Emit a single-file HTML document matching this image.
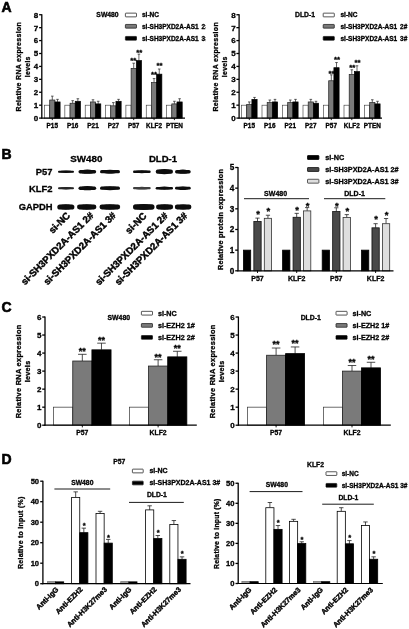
<!DOCTYPE html>
<html lang="en"><head><meta charset="utf-8"><title>Figure</title>
<style>html,body{margin:0;padding:0;background:#fff;}svg{display:block;}text{font-family:"Liberation Sans",Arial,Helvetica,sans-serif;font-weight:bold;stroke:#000;stroke-width:0.3px;}</style>
</head><body>
<svg width="409" height="629" viewBox="0 0 409 629">
<defs><filter id="bl" x="-10%" y="-50%" width="120%" height="200%"><feGaussianBlur stdDeviation="0.45"/></filter>
<filter id="soft" x="0" y="0" width="100%" height="100%"><feGaussianBlur stdDeviation="0.3"/></filter></defs>
<rect x="0" y="0" width="409" height="629" fill="#fff"/>
<g filter="url(#soft)">
<text x="21.00" y="66.72" font-size="7.0" text-anchor="middle" fill="#000" transform="rotate(-90 21.00 66.72)" letter-spacing="0.3">Relative RNA expression</text>
<text x="29.80" y="66.72" font-size="6.9" text-anchor="middle" fill="#000" transform="rotate(-90 29.80 66.72)" letter-spacing="0.3">levels</text>
<rect x="44.50" y="105.18" width="5.20" height="12.92" fill="#fff" stroke="#333" stroke-width="0.6"/>
<line x1="52.30" y1="96.14" x2="52.30" y2="100.01" stroke="#222" stroke-width="0.7"/>
<line x1="51.00" y1="96.14" x2="53.60" y2="96.14" stroke="#222" stroke-width="0.7"/>
<rect x="49.70" y="100.01" width="5.20" height="18.09" fill="#7a7a7a" stroke="#222" stroke-width="0.7"/>
<line x1="57.50" y1="99.37" x2="57.50" y2="101.95" stroke="#222" stroke-width="0.7"/>
<line x1="56.20" y1="99.37" x2="58.80" y2="99.37" stroke="#222" stroke-width="0.7"/>
<rect x="54.90" y="101.95" width="5.20" height="16.15" fill="#000" stroke="#000" stroke-width="0.7"/>
<text x="52.30" y="127.80" font-size="6.4" text-anchor="middle" fill="#000">P15</text>
<line x1="52.30" y1="118.10" x2="52.30" y2="120.10" stroke="#000" stroke-width="0.9"/>
<rect x="64.85" y="105.18" width="5.20" height="12.92" fill="#fff" stroke="#333" stroke-width="0.6"/>
<line x1="72.65" y1="100.66" x2="72.65" y2="103.24" stroke="#222" stroke-width="0.7"/>
<line x1="71.35" y1="100.66" x2="73.95" y2="100.66" stroke="#222" stroke-width="0.7"/>
<rect x="70.05" y="103.24" width="5.20" height="14.86" fill="#7a7a7a" stroke="#222" stroke-width="0.7"/>
<line x1="77.85" y1="98.72" x2="77.85" y2="101.30" stroke="#222" stroke-width="0.7"/>
<line x1="76.55" y1="98.72" x2="79.15" y2="98.72" stroke="#222" stroke-width="0.7"/>
<rect x="75.25" y="101.30" width="5.20" height="16.80" fill="#000" stroke="#000" stroke-width="0.7"/>
<text x="72.65" y="127.80" font-size="6.4" text-anchor="middle" fill="#000">P16</text>
<line x1="72.65" y1="118.10" x2="72.65" y2="120.10" stroke="#000" stroke-width="0.9"/>
<rect x="85.20" y="105.18" width="5.20" height="12.92" fill="#fff" stroke="#333" stroke-width="0.6"/>
<line x1="93.00" y1="99.75" x2="93.00" y2="101.95" stroke="#222" stroke-width="0.7"/>
<line x1="91.70" y1="99.75" x2="94.30" y2="99.75" stroke="#222" stroke-width="0.7"/>
<rect x="90.40" y="101.95" width="5.20" height="16.15" fill="#7a7a7a" stroke="#222" stroke-width="0.7"/>
<line x1="98.20" y1="101.30" x2="98.20" y2="103.89" stroke="#222" stroke-width="0.7"/>
<line x1="96.90" y1="101.30" x2="99.50" y2="101.30" stroke="#222" stroke-width="0.7"/>
<rect x="95.60" y="103.89" width="5.20" height="14.21" fill="#000" stroke="#000" stroke-width="0.7"/>
<text x="93.00" y="127.80" font-size="6.4" text-anchor="middle" fill="#000">P21</text>
<line x1="93.00" y1="118.10" x2="93.00" y2="120.10" stroke="#000" stroke-width="0.9"/>
<rect x="105.55" y="105.18" width="5.20" height="12.92" fill="#fff" stroke="#333" stroke-width="0.6"/>
<line x1="113.35" y1="102.60" x2="113.35" y2="105.83" stroke="#222" stroke-width="0.7"/>
<line x1="112.05" y1="102.60" x2="114.65" y2="102.60" stroke="#222" stroke-width="0.7"/>
<rect x="110.75" y="105.83" width="5.20" height="12.27" fill="#7a7a7a" stroke="#222" stroke-width="0.7"/>
<line x1="118.55" y1="99.37" x2="118.55" y2="101.30" stroke="#222" stroke-width="0.7"/>
<line x1="117.25" y1="99.37" x2="119.85" y2="99.37" stroke="#222" stroke-width="0.7"/>
<rect x="115.95" y="101.30" width="5.20" height="16.80" fill="#000" stroke="#000" stroke-width="0.7"/>
<text x="113.35" y="127.80" font-size="6.4" text-anchor="middle" fill="#000">P27</text>
<line x1="113.35" y1="118.10" x2="113.35" y2="120.10" stroke="#000" stroke-width="0.9"/>
<rect x="125.90" y="105.18" width="5.20" height="12.92" fill="#fff" stroke="#333" stroke-width="0.6"/>
<line x1="133.70" y1="63.19" x2="133.70" y2="68.36" stroke="#222" stroke-width="0.7"/>
<line x1="132.40" y1="63.19" x2="135.00" y2="63.19" stroke="#222" stroke-width="0.7"/>
<rect x="131.10" y="68.36" width="5.20" height="49.74" fill="#7a7a7a" stroke="#222" stroke-width="0.7"/>
<text x="133.20" y="63.37" font-size="7.8" text-anchor="middle" fill="#000">**</text>
<line x1="138.90" y1="54.15" x2="138.90" y2="60.61" stroke="#222" stroke-width="0.7"/>
<line x1="137.60" y1="54.15" x2="140.20" y2="54.15" stroke="#222" stroke-width="0.7"/>
<rect x="136.30" y="60.61" width="5.20" height="57.49" fill="#000" stroke="#000" stroke-width="0.7"/>
<text x="139.20" y="55.17" font-size="7.8" text-anchor="middle" fill="#000">**</text>
<text x="133.70" y="127.80" font-size="6.4" text-anchor="middle" fill="#000">P57</text>
<line x1="133.70" y1="118.10" x2="133.70" y2="120.10" stroke="#000" stroke-width="0.9"/>
<rect x="146.25" y="105.18" width="5.20" height="12.92" fill="#fff" stroke="#333" stroke-width="0.6"/>
<line x1="154.05" y1="78.56" x2="154.05" y2="82.57" stroke="#222" stroke-width="0.7"/>
<line x1="152.75" y1="78.56" x2="155.35" y2="78.56" stroke="#222" stroke-width="0.7"/>
<rect x="151.45" y="82.57" width="5.20" height="35.53" fill="#7a7a7a" stroke="#222" stroke-width="0.7"/>
<text x="154.05" y="77.37" font-size="7.8" text-anchor="middle" fill="#000">**</text>
<line x1="159.25" y1="69.00" x2="159.25" y2="74.17" stroke="#222" stroke-width="0.7"/>
<line x1="157.95" y1="69.00" x2="160.55" y2="69.00" stroke="#222" stroke-width="0.7"/>
<rect x="156.65" y="74.17" width="5.20" height="43.93" fill="#000" stroke="#000" stroke-width="0.7"/>
<text x="159.55" y="68.37" font-size="7.8" text-anchor="middle" fill="#000">**</text>
<text x="154.05" y="127.80" font-size="6.4" text-anchor="middle" fill="#000">KLF2</text>
<line x1="154.05" y1="118.10" x2="154.05" y2="120.10" stroke="#000" stroke-width="0.9"/>
<rect x="166.60" y="105.18" width="5.20" height="12.92" fill="#fff" stroke="#333" stroke-width="0.6"/>
<line x1="174.40" y1="101.30" x2="174.40" y2="103.89" stroke="#222" stroke-width="0.7"/>
<line x1="173.10" y1="101.30" x2="175.70" y2="101.30" stroke="#222" stroke-width="0.7"/>
<rect x="171.80" y="103.89" width="5.20" height="14.21" fill="#7a7a7a" stroke="#222" stroke-width="0.7"/>
<line x1="179.60" y1="98.72" x2="179.60" y2="101.95" stroke="#222" stroke-width="0.7"/>
<line x1="178.30" y1="98.72" x2="180.90" y2="98.72" stroke="#222" stroke-width="0.7"/>
<rect x="177.00" y="101.95" width="5.20" height="16.15" fill="#000" stroke="#000" stroke-width="0.7"/>
<text x="174.40" y="127.80" font-size="6.4" text-anchor="middle" fill="#000">PTEN</text>
<line x1="174.40" y1="118.10" x2="174.40" y2="120.10" stroke="#000" stroke-width="0.9"/>
<line x1="41.30" y1="118.10" x2="185.00" y2="118.10" stroke="#000" stroke-width="1.3"/>
<line x1="41.80" y1="14.24" x2="41.80" y2="118.60" stroke="#000" stroke-width="1.3"/>
<line x1="39.10" y1="118.10" x2="41.80" y2="118.10" stroke="#000" stroke-width="1.3"/>
<text x="38.30" y="120.98" font-size="8" text-anchor="end" fill="#000">0</text>
<line x1="39.10" y1="105.18" x2="41.80" y2="105.18" stroke="#000" stroke-width="1.3"/>
<text x="38.30" y="108.06" font-size="8" text-anchor="end" fill="#000">1</text>
<line x1="39.10" y1="92.26" x2="41.80" y2="92.26" stroke="#000" stroke-width="1.3"/>
<text x="38.30" y="95.14" font-size="8" text-anchor="end" fill="#000">2</text>
<line x1="39.10" y1="79.34" x2="41.80" y2="79.34" stroke="#000" stroke-width="1.3"/>
<text x="38.30" y="82.22" font-size="8" text-anchor="end" fill="#000">3</text>
<line x1="39.10" y1="66.42" x2="41.80" y2="66.42" stroke="#000" stroke-width="1.3"/>
<text x="38.30" y="69.30" font-size="8" text-anchor="end" fill="#000">4</text>
<line x1="39.10" y1="53.50" x2="41.80" y2="53.50" stroke="#000" stroke-width="1.3"/>
<text x="38.30" y="56.38" font-size="8" text-anchor="end" fill="#000">5</text>
<line x1="39.10" y1="40.58" x2="41.80" y2="40.58" stroke="#000" stroke-width="1.3"/>
<text x="38.30" y="43.46" font-size="8" text-anchor="end" fill="#000">6</text>
<line x1="39.10" y1="27.66" x2="41.80" y2="27.66" stroke="#000" stroke-width="1.3"/>
<text x="38.30" y="30.54" font-size="8" text-anchor="end" fill="#000">7</text>
<line x1="39.10" y1="14.74" x2="41.80" y2="14.74" stroke="#000" stroke-width="1.3"/>
<text x="38.30" y="17.62" font-size="8" text-anchor="end" fill="#000">8</text>
<text x="107.50" y="17.30" font-size="6.8" text-anchor="middle" fill="#000">SW480</text>
<rect x="125.40" y="13.15" width="11.10" height="3.70" fill="#fff" stroke="#111" stroke-width="0.7" rx="0.5"/>
<text x="142.00" y="17.40" font-size="6.5" text-anchor="start" fill="#000" word-spacing="1">si-NC</text>
<rect x="125.40" y="24.45" width="11.10" height="3.70" fill="#7a7a7a" stroke="#111" stroke-width="0.7" rx="0.5"/>
<text x="142.00" y="28.70" font-size="6.5" text-anchor="start" fill="#000" word-spacing="1">si-SH3PXD2A-AS1 2#</text>
<rect x="125.40" y="36.45" width="11.10" height="3.70" fill="#000" stroke="#111" stroke-width="0.7" rx="0.5"/>
<text x="142.00" y="40.70" font-size="6.5" text-anchor="start" fill="#000" word-spacing="1">si-SH3PXD2A-AS1 3#</text>
<rect x="205.5" y="0" width="204" height="140" fill="#fff"/>
<text x="218.30" y="66.72" font-size="7.0" text-anchor="middle" fill="#000" transform="rotate(-90 218.30 66.72)" letter-spacing="0.3">Relative RNA expression</text>
<text x="227.10" y="66.72" font-size="6.9" text-anchor="middle" fill="#000" transform="rotate(-90 227.10 66.72)" letter-spacing="0.3">levels</text>
<rect x="241.50" y="105.18" width="5.20" height="12.92" fill="#fff" stroke="#333" stroke-width="0.6"/>
<line x1="249.30" y1="101.95" x2="249.30" y2="104.53" stroke="#222" stroke-width="0.7"/>
<line x1="248.00" y1="101.95" x2="250.60" y2="101.95" stroke="#222" stroke-width="0.7"/>
<rect x="246.70" y="104.53" width="5.20" height="13.57" fill="#7a7a7a" stroke="#222" stroke-width="0.7"/>
<line x1="254.50" y1="97.43" x2="254.50" y2="99.37" stroke="#222" stroke-width="0.7"/>
<line x1="253.20" y1="97.43" x2="255.80" y2="97.43" stroke="#222" stroke-width="0.7"/>
<rect x="251.90" y="99.37" width="5.20" height="18.73" fill="#000" stroke="#000" stroke-width="0.7"/>
<text x="249.30" y="127.80" font-size="6.4" text-anchor="middle" fill="#000">P15</text>
<line x1="249.30" y1="118.10" x2="249.30" y2="120.10" stroke="#000" stroke-width="0.9"/>
<rect x="262.00" y="105.18" width="5.20" height="12.92" fill="#fff" stroke="#333" stroke-width="0.6"/>
<line x1="269.80" y1="100.01" x2="269.80" y2="102.60" stroke="#222" stroke-width="0.7"/>
<line x1="268.50" y1="100.01" x2="271.10" y2="100.01" stroke="#222" stroke-width="0.7"/>
<rect x="267.20" y="102.60" width="5.20" height="15.50" fill="#7a7a7a" stroke="#222" stroke-width="0.7"/>
<line x1="275.00" y1="99.37" x2="275.00" y2="101.95" stroke="#222" stroke-width="0.7"/>
<line x1="273.70" y1="99.37" x2="276.30" y2="99.37" stroke="#222" stroke-width="0.7"/>
<rect x="272.40" y="101.95" width="5.20" height="16.15" fill="#000" stroke="#000" stroke-width="0.7"/>
<text x="269.80" y="127.80" font-size="6.4" text-anchor="middle" fill="#000">P16</text>
<line x1="269.80" y1="118.10" x2="269.80" y2="120.10" stroke="#000" stroke-width="0.9"/>
<rect x="282.50" y="105.18" width="5.20" height="12.92" fill="#fff" stroke="#333" stroke-width="0.6"/>
<line x1="290.30" y1="100.01" x2="290.30" y2="102.60" stroke="#222" stroke-width="0.7"/>
<line x1="289.00" y1="100.01" x2="291.60" y2="100.01" stroke="#222" stroke-width="0.7"/>
<rect x="287.70" y="102.60" width="5.20" height="15.50" fill="#7a7a7a" stroke="#222" stroke-width="0.7"/>
<line x1="295.50" y1="99.37" x2="295.50" y2="101.95" stroke="#222" stroke-width="0.7"/>
<line x1="294.20" y1="99.37" x2="296.80" y2="99.37" stroke="#222" stroke-width="0.7"/>
<rect x="292.90" y="101.95" width="5.20" height="16.15" fill="#000" stroke="#000" stroke-width="0.7"/>
<text x="290.30" y="127.80" font-size="6.4" text-anchor="middle" fill="#000">P21</text>
<line x1="290.30" y1="118.10" x2="290.30" y2="120.10" stroke="#000" stroke-width="0.9"/>
<rect x="303.00" y="105.18" width="5.20" height="12.92" fill="#fff" stroke="#333" stroke-width="0.6"/>
<line x1="310.80" y1="99.37" x2="310.80" y2="101.95" stroke="#222" stroke-width="0.7"/>
<line x1="309.50" y1="99.37" x2="312.10" y2="99.37" stroke="#222" stroke-width="0.7"/>
<rect x="308.20" y="101.95" width="5.20" height="16.15" fill="#7a7a7a" stroke="#222" stroke-width="0.7"/>
<line x1="316.00" y1="101.30" x2="316.00" y2="103.24" stroke="#222" stroke-width="0.7"/>
<line x1="314.70" y1="101.30" x2="317.30" y2="101.30" stroke="#222" stroke-width="0.7"/>
<rect x="313.40" y="103.24" width="5.20" height="14.86" fill="#000" stroke="#000" stroke-width="0.7"/>
<text x="310.80" y="127.80" font-size="6.4" text-anchor="middle" fill="#000">P27</text>
<line x1="310.80" y1="118.10" x2="310.80" y2="120.10" stroke="#000" stroke-width="0.9"/>
<rect x="323.50" y="105.18" width="5.20" height="12.92" fill="#fff" stroke="#333" stroke-width="0.6"/>
<line x1="331.30" y1="74.82" x2="331.30" y2="80.76" stroke="#222" stroke-width="0.7"/>
<line x1="330.00" y1="74.82" x2="332.60" y2="74.82" stroke="#222" stroke-width="0.7"/>
<rect x="328.70" y="80.76" width="5.20" height="37.34" fill="#7a7a7a" stroke="#222" stroke-width="0.7"/>
<text x="331.50" y="75.87" font-size="7.8" text-anchor="middle" fill="#000">**</text>
<line x1="336.50" y1="62.54" x2="336.50" y2="67.71" stroke="#222" stroke-width="0.7"/>
<line x1="335.20" y1="62.54" x2="337.80" y2="62.54" stroke="#222" stroke-width="0.7"/>
<rect x="333.90" y="67.71" width="5.20" height="50.39" fill="#000" stroke="#000" stroke-width="0.7"/>
<text x="337.00" y="62.17" font-size="7.8" text-anchor="middle" fill="#000">**</text>
<text x="331.30" y="127.80" font-size="6.4" text-anchor="middle" fill="#000">P57</text>
<line x1="331.30" y1="118.10" x2="331.30" y2="120.10" stroke="#000" stroke-width="0.9"/>
<rect x="344.00" y="105.18" width="5.20" height="12.92" fill="#fff" stroke="#333" stroke-width="0.6"/>
<line x1="351.80" y1="69.78" x2="351.80" y2="74.56" stroke="#222" stroke-width="0.7"/>
<line x1="350.50" y1="69.78" x2="353.10" y2="69.78" stroke="#222" stroke-width="0.7"/>
<rect x="349.20" y="74.56" width="5.20" height="43.54" fill="#7a7a7a" stroke="#222" stroke-width="0.7"/>
<text x="352.30" y="70.17" font-size="7.8" text-anchor="middle" fill="#000">**</text>
<line x1="357.00" y1="65.77" x2="357.00" y2="71.59" stroke="#222" stroke-width="0.7"/>
<line x1="355.70" y1="65.77" x2="358.30" y2="65.77" stroke="#222" stroke-width="0.7"/>
<rect x="354.40" y="71.59" width="5.20" height="46.51" fill="#000" stroke="#000" stroke-width="0.7"/>
<text x="357.50" y="64.77" font-size="7.8" text-anchor="middle" fill="#000">**</text>
<text x="351.80" y="127.80" font-size="6.4" text-anchor="middle" fill="#000">KLF2</text>
<line x1="351.80" y1="118.10" x2="351.80" y2="120.10" stroke="#000" stroke-width="0.9"/>
<rect x="364.50" y="105.18" width="5.20" height="12.92" fill="#fff" stroke="#333" stroke-width="0.6"/>
<line x1="372.30" y1="99.75" x2="372.30" y2="102.60" stroke="#222" stroke-width="0.7"/>
<line x1="371.00" y1="99.75" x2="373.60" y2="99.75" stroke="#222" stroke-width="0.7"/>
<rect x="369.70" y="102.60" width="5.20" height="15.50" fill="#7a7a7a" stroke="#222" stroke-width="0.7"/>
<line x1="377.50" y1="101.30" x2="377.50" y2="103.89" stroke="#222" stroke-width="0.7"/>
<line x1="376.20" y1="101.30" x2="378.80" y2="101.30" stroke="#222" stroke-width="0.7"/>
<rect x="374.90" y="103.89" width="5.20" height="14.21" fill="#000" stroke="#000" stroke-width="0.7"/>
<text x="372.30" y="127.80" font-size="6.4" text-anchor="middle" fill="#000">PTEN</text>
<line x1="372.30" y1="118.10" x2="372.30" y2="120.10" stroke="#000" stroke-width="0.9"/>
<line x1="238.60" y1="118.10" x2="382.00" y2="118.10" stroke="#000" stroke-width="1.3"/>
<line x1="239.10" y1="14.24" x2="239.10" y2="118.60" stroke="#000" stroke-width="1.3"/>
<line x1="236.40" y1="118.10" x2="239.10" y2="118.10" stroke="#000" stroke-width="1.3"/>
<text x="235.60" y="120.98" font-size="8" text-anchor="end" fill="#000">0</text>
<line x1="236.40" y1="105.18" x2="239.10" y2="105.18" stroke="#000" stroke-width="1.3"/>
<text x="235.60" y="108.06" font-size="8" text-anchor="end" fill="#000">1</text>
<line x1="236.40" y1="92.26" x2="239.10" y2="92.26" stroke="#000" stroke-width="1.3"/>
<text x="235.60" y="95.14" font-size="8" text-anchor="end" fill="#000">2</text>
<line x1="236.40" y1="79.34" x2="239.10" y2="79.34" stroke="#000" stroke-width="1.3"/>
<text x="235.60" y="82.22" font-size="8" text-anchor="end" fill="#000">3</text>
<line x1="236.40" y1="66.42" x2="239.10" y2="66.42" stroke="#000" stroke-width="1.3"/>
<text x="235.60" y="69.30" font-size="8" text-anchor="end" fill="#000">4</text>
<line x1="236.40" y1="53.50" x2="239.10" y2="53.50" stroke="#000" stroke-width="1.3"/>
<text x="235.60" y="56.38" font-size="8" text-anchor="end" fill="#000">5</text>
<line x1="236.40" y1="40.58" x2="239.10" y2="40.58" stroke="#000" stroke-width="1.3"/>
<text x="235.60" y="43.46" font-size="8" text-anchor="end" fill="#000">6</text>
<line x1="236.40" y1="27.66" x2="239.10" y2="27.66" stroke="#000" stroke-width="1.3"/>
<text x="235.60" y="30.54" font-size="8" text-anchor="end" fill="#000">7</text>
<line x1="236.40" y1="14.74" x2="239.10" y2="14.74" stroke="#000" stroke-width="1.3"/>
<text x="235.60" y="17.62" font-size="8" text-anchor="end" fill="#000">8</text>
<text x="305.00" y="17.30" font-size="6.8" text-anchor="middle" fill="#000">DLD-1</text>
<rect x="323.20" y="13.15" width="11.10" height="3.70" fill="#fff" stroke="#111" stroke-width="0.7" rx="0.5"/>
<text x="340.50" y="17.40" font-size="6.5" text-anchor="start" fill="#000" word-spacing="1">si-NC</text>
<rect x="323.20" y="24.45" width="11.10" height="3.70" fill="#7a7a7a" stroke="#111" stroke-width="0.7" rx="0.5"/>
<text x="340.50" y="28.70" font-size="6.5" text-anchor="start" fill="#000" word-spacing="1">si-SH3PXD2A-AS1 2#</text>
<rect x="323.20" y="36.45" width="11.10" height="3.70" fill="#000" stroke="#111" stroke-width="0.7" rx="0.5"/>
<text x="340.50" y="40.70" font-size="6.5" text-anchor="start" fill="#000" word-spacing="1">si-SH3PXD2A-AS1 3#</text>
<text x="1.50" y="12.30" font-size="14" text-anchor="start" fill="#000" style="stroke-width:0.6px">A</text>
<text x="1.50" y="159.20" font-size="14" text-anchor="start" fill="#000" style="stroke-width:0.6px">B</text>
<text x="1.50" y="311.80" font-size="14" text-anchor="start" fill="#000" style="stroke-width:0.6px">C</text>
<text x="1.50" y="463.60" font-size="14" text-anchor="start" fill="#000" style="stroke-width:0.6px">D</text>
<text x="86.30" y="161.60" font-size="9.8" text-anchor="middle" fill="#000">SW480</text>
<text x="163.00" y="161.80" font-size="9.6" text-anchor="middle" fill="#000">DLD-1</text>
<text x="52.50" y="175.30" font-size="9.4" text-anchor="end" fill="#000">P57</text>
<text x="52.50" y="192.00" font-size="9.4" text-anchor="end" fill="#000">KLF2</text>
<text x="52.50" y="210.30" font-size="9.4" text-anchor="end" fill="#000">GAPDH</text>
<g opacity="1" filter="url(#bl)" fill="#0a0a0a"><rect x="58.00" y="170.72" width="16.00" height="1.97" rx="0.98"/><ellipse cx="66.00" cy="171.70" rx="6.50" ry="1.20"/></g>
<g opacity="1" filter="url(#bl)" fill="#0a0a0a"><rect x="78.50" y="169.98" width="17.70" height="3.44" rx="1.72"/><ellipse cx="87.35" cy="171.70" rx="7.35" ry="2.10"/></g>
<g opacity="1" filter="url(#bl)" fill="#0a0a0a"><rect x="100.00" y="170.06" width="20.00" height="3.28" rx="1.64"/><ellipse cx="110.00" cy="171.70" rx="8.50" ry="2.00"/></g>
<g opacity="1" filter="url(#bl)" fill="#0a0a0a"><rect x="133.00" y="170.47" width="17.70" height="2.46" rx="1.23"/><ellipse cx="141.85" cy="171.70" rx="7.35" ry="1.50"/></g>
<g opacity="1" filter="url(#bl)" fill="#0a0a0a"><rect x="155.70" y="169.57" width="17.30" height="4.26" rx="2.13"/><ellipse cx="164.35" cy="171.70" rx="7.15" ry="2.60"/></g>
<g opacity="1" filter="url(#bl)" fill="#0a0a0a"><rect x="175.00" y="169.98" width="15.70" height="3.44" rx="1.72"/><ellipse cx="182.85" cy="171.70" rx="6.35" ry="2.10"/></g>
<g opacity="0.9" filter="url(#bl)" fill="#0a0a0a"><rect x="58.00" y="187.13" width="16.00" height="2.13" rx="1.07"/><ellipse cx="66.00" cy="188.20" rx="6.50" ry="1.30"/></g>
<g opacity="1" filter="url(#bl)" fill="#0a0a0a"><rect x="78.50" y="186.48" width="17.70" height="3.44" rx="1.72"/><ellipse cx="87.35" cy="188.20" rx="7.35" ry="2.10"/></g>
<g opacity="1" filter="url(#bl)" fill="#0a0a0a"><rect x="100.00" y="186.56" width="20.00" height="3.28" rx="1.64"/><ellipse cx="110.00" cy="188.20" rx="8.50" ry="2.00"/></g>
<g opacity="0.8" filter="url(#bl)" fill="#0a0a0a"><rect x="133.00" y="187.05" width="17.70" height="2.30" rx="1.15"/><ellipse cx="141.85" cy="188.20" rx="7.35" ry="1.40"/></g>
<g opacity="1" filter="url(#bl)" fill="#0a0a0a"><rect x="155.70" y="186.89" width="17.30" height="2.62" rx="1.31"/><ellipse cx="164.35" cy="188.20" rx="7.15" ry="1.60"/></g>
<g opacity="1" filter="url(#bl)" fill="#0a0a0a"><rect x="175.00" y="186.81" width="15.70" height="2.79" rx="1.39"/><ellipse cx="182.85" cy="188.20" rx="6.35" ry="1.70"/></g>
<g opacity="1" filter="url(#bl)" fill="#0a0a0a"><rect x="57.30" y="204.42" width="17.10" height="5.15" rx="2.58"/><ellipse cx="65.85" cy="207.00" rx="7.05" ry="2.80"/></g>
<g opacity="1" filter="url(#bl)" fill="#0a0a0a"><rect x="77.00" y="204.52" width="19.40" height="4.97" rx="2.48"/><ellipse cx="86.70" cy="207.00" rx="8.20" ry="2.70"/></g>
<g opacity="1" filter="url(#bl)" fill="#0a0a0a"><rect x="99.50" y="204.52" width="20.70" height="4.97" rx="2.48"/><ellipse cx="109.85" cy="207.00" rx="8.85" ry="2.70"/></g>
<g opacity="1" filter="url(#bl)" fill="#0a0a0a"><rect x="133.00" y="204.33" width="21.50" height="5.34" rx="2.67"/><ellipse cx="143.75" cy="207.00" rx="9.25" ry="2.90"/></g>
<g opacity="1" filter="url(#bl)" fill="#0a0a0a"><rect x="156.00" y="204.52" width="17.20" height="4.97" rx="2.48"/><ellipse cx="164.60" cy="207.00" rx="7.10" ry="2.70"/></g>
<g opacity="1" filter="url(#bl)" fill="#0a0a0a"><rect x="174.80" y="204.61" width="16.60" height="4.78" rx="2.39"/><ellipse cx="183.10" cy="207.00" rx="6.80" ry="2.60"/></g>
<text x="70.70" y="216.20" font-size="9.7" text-anchor="end" fill="#000" transform="rotate(-45 70.70 216.20)" style="stroke-width:0.45px">si-NC</text>
<text x="94.20" y="216.20" font-size="9.7" text-anchor="end" fill="#000" transform="rotate(-45 94.20 216.20)" style="stroke-width:0.45px">si-SH3PXD2A-AS1 2#</text>
<text x="116.70" y="216.20" font-size="9.7" text-anchor="end" fill="#000" transform="rotate(-45 116.70 216.20)" style="stroke-width:0.45px">si-SH3PXD2A-AS1 3#</text>
<text x="147.20" y="216.50" font-size="9.7" text-anchor="end" fill="#000" transform="rotate(-45 147.20 216.50)" style="stroke-width:0.45px">si-NC</text>
<text x="168.50" y="216.50" font-size="9.7" text-anchor="end" fill="#000" transform="rotate(-45 168.50 216.50)" style="stroke-width:0.45px">si-SH3PXD2A-AS1 2#</text>
<text x="188.00" y="216.50" font-size="9.7" text-anchor="end" fill="#000" transform="rotate(-45 188.00 216.50)" style="stroke-width:0.45px">si-SH3PXD2A-AS1 3#</text>
<text x="223.50" y="219.45" font-size="7.2" text-anchor="middle" fill="#000" transform="rotate(-90 223.50 219.45)" letter-spacing="0.27">Relative protein expression</text>
<rect x="243.40" y="250.14" width="7.30" height="20.66" fill="#000" stroke="#000" stroke-width="0.8"/>
<line x1="257.50" y1="218.12" x2="257.50" y2="221.42" stroke="#222" stroke-width="0.8"/>
<line x1="255.40" y1="218.12" x2="259.60" y2="218.12" stroke="#222" stroke-width="0.8"/>
<text x="258.00" y="216.84" font-size="9.5" text-anchor="middle" fill="#000">*</text>
<rect x="253.85" y="221.42" width="7.30" height="49.38" fill="#484848" stroke="#111" stroke-width="0.8"/>
<line x1="267.95" y1="215.22" x2="267.95" y2="218.32" stroke="#222" stroke-width="0.8"/>
<line x1="265.85" y1="215.22" x2="270.05" y2="215.22" stroke="#222" stroke-width="0.8"/>
<text x="268.45" y="214.14" font-size="9.5" text-anchor="middle" fill="#000">*</text>
<rect x="264.30" y="218.32" width="7.30" height="52.48" fill="#dedede" stroke="#333" stroke-width="0.8"/>
<line x1="257.50" y1="270.80" x2="257.50" y2="273.00" stroke="#000" stroke-width="0.9"/>
<text x="257.50" y="281.00" font-size="7" text-anchor="middle" fill="#000">P57</text>
<rect x="282.60" y="250.14" width="7.30" height="20.66" fill="#000" stroke="#000" stroke-width="0.8"/>
<line x1="296.70" y1="213.37" x2="296.70" y2="217.29" stroke="#222" stroke-width="0.8"/>
<line x1="294.60" y1="213.37" x2="298.80" y2="213.37" stroke="#222" stroke-width="0.8"/>
<text x="297.20" y="213.29" font-size="9.5" text-anchor="middle" fill="#000">*</text>
<rect x="293.05" y="217.29" width="7.30" height="53.51" fill="#484848" stroke="#111" stroke-width="0.8"/>
<line x1="307.15" y1="207.58" x2="307.15" y2="210.89" stroke="#222" stroke-width="0.8"/>
<line x1="305.05" y1="207.58" x2="309.25" y2="207.58" stroke="#222" stroke-width="0.8"/>
<text x="307.65" y="208.50" font-size="9.5" text-anchor="middle" fill="#000">*</text>
<rect x="303.50" y="210.89" width="7.30" height="59.91" fill="#dedede" stroke="#333" stroke-width="0.8"/>
<line x1="296.70" y1="270.80" x2="296.70" y2="273.00" stroke="#000" stroke-width="0.9"/>
<text x="296.70" y="281.00" font-size="7" text-anchor="middle" fill="#000">KLF2</text>
<rect x="322.20" y="250.14" width="7.30" height="20.66" fill="#000" stroke="#000" stroke-width="0.8"/>
<line x1="336.30" y1="207.79" x2="336.30" y2="211.51" stroke="#222" stroke-width="0.8"/>
<line x1="334.20" y1="207.79" x2="338.40" y2="207.79" stroke="#222" stroke-width="0.8"/>
<text x="336.80" y="208.71" font-size="9.5" text-anchor="middle" fill="#000">*</text>
<rect x="332.65" y="211.51" width="7.30" height="59.29" fill="#484848" stroke="#111" stroke-width="0.8"/>
<line x1="346.75" y1="214.60" x2="346.75" y2="217.50" stroke="#222" stroke-width="0.8"/>
<line x1="344.65" y1="214.60" x2="348.85" y2="214.60" stroke="#222" stroke-width="0.8"/>
<text x="347.25" y="214.12" font-size="9.5" text-anchor="middle" fill="#000">*</text>
<rect x="343.10" y="217.50" width="7.30" height="53.30" fill="#dedede" stroke="#333" stroke-width="0.8"/>
<line x1="336.30" y1="270.80" x2="336.30" y2="273.00" stroke="#000" stroke-width="0.9"/>
<text x="336.30" y="281.00" font-size="7" text-anchor="middle" fill="#000">P57</text>
<rect x="361.50" y="250.14" width="7.30" height="20.66" fill="#000" stroke="#000" stroke-width="0.8"/>
<line x1="375.60" y1="223.70" x2="375.60" y2="227.83" stroke="#222" stroke-width="0.8"/>
<line x1="373.50" y1="223.70" x2="377.70" y2="223.70" stroke="#222" stroke-width="0.8"/>
<text x="376.10" y="222.12" font-size="9.5" text-anchor="middle" fill="#000">*</text>
<rect x="371.95" y="227.83" width="7.30" height="42.97" fill="#484848" stroke="#111" stroke-width="0.8"/>
<line x1="386.05" y1="218.53" x2="386.05" y2="223.70" stroke="#222" stroke-width="0.8"/>
<line x1="383.95" y1="218.53" x2="388.15" y2="218.53" stroke="#222" stroke-width="0.8"/>
<text x="386.55" y="217.85" font-size="9.5" text-anchor="middle" fill="#000">*</text>
<rect x="382.40" y="223.70" width="7.30" height="47.10" fill="#dedede" stroke="#333" stroke-width="0.8"/>
<line x1="375.60" y1="270.80" x2="375.60" y2="273.00" stroke="#000" stroke-width="0.9"/>
<text x="375.60" y="281.00" font-size="7" text-anchor="middle" fill="#000">KLF2</text>
<line x1="237.50" y1="270.80" x2="393.50" y2="270.80" stroke="#000" stroke-width="1.2"/>
<line x1="238.00" y1="167.00" x2="238.00" y2="271.30" stroke="#000" stroke-width="1.3"/>
<line x1="235.20" y1="270.80" x2="238.00" y2="270.80" stroke="#000" stroke-width="1.3"/>
<text x="234.30" y="273.75" font-size="8.2" text-anchor="end" fill="#000">0</text>
<line x1="235.20" y1="250.14" x2="238.00" y2="250.14" stroke="#000" stroke-width="1.3"/>
<text x="234.30" y="253.09" font-size="8.2" text-anchor="end" fill="#000">1</text>
<line x1="235.20" y1="229.48" x2="238.00" y2="229.48" stroke="#000" stroke-width="1.3"/>
<text x="234.30" y="232.43" font-size="8.2" text-anchor="end" fill="#000">2</text>
<line x1="235.20" y1="208.82" x2="238.00" y2="208.82" stroke="#000" stroke-width="1.3"/>
<text x="234.30" y="211.77" font-size="8.2" text-anchor="end" fill="#000">3</text>
<line x1="235.20" y1="188.16" x2="238.00" y2="188.16" stroke="#000" stroke-width="1.3"/>
<text x="234.30" y="191.11" font-size="8.2" text-anchor="end" fill="#000">4</text>
<line x1="235.20" y1="167.50" x2="238.00" y2="167.50" stroke="#000" stroke-width="1.3"/>
<text x="234.30" y="170.45" font-size="8.2" text-anchor="end" fill="#000">5</text>
<text x="275.60" y="195.60" font-size="7" text-anchor="middle" fill="#000">SW480</text>
<line x1="244.00" y1="198.70" x2="309.00" y2="198.70" stroke="#000" stroke-width="0.9"/>
<text x="354.60" y="195.60" font-size="7" text-anchor="middle" fill="#000">DLD-1</text>
<line x1="324.00" y1="198.70" x2="385.30" y2="198.70" stroke="#000" stroke-width="0.9"/>
<rect x="307.50" y="155.55" width="11.40" height="3.90" fill="#000" stroke="#000" stroke-width="0.8" rx="0.5"/>
<text x="325.30" y="160.10" font-size="7.25" text-anchor="start" fill="#000">si-NC</text>
<rect x="307.50" y="167.55" width="11.40" height="3.90" fill="#484848" stroke="#111" stroke-width="0.8" rx="0.5"/>
<text x="325.30" y="172.10" font-size="7.25" text-anchor="start" fill="#000">si-SH3PXD2A-AS1 2#</text>
<rect x="307.50" y="179.25" width="11.40" height="3.90" fill="#dedede" stroke="#333" stroke-width="0.8" rx="0.5"/>
<text x="325.30" y="183.80" font-size="7.25" text-anchor="start" fill="#000">si-SH3PXD2A-AS1 3#</text>
<text x="21.40" y="371.41" font-size="7.4" text-anchor="middle" fill="#000" transform="rotate(-90 21.40 371.41)" letter-spacing="0.29">Relative RNA expression</text>
<text x="30.40" y="371.41" font-size="7.2" text-anchor="middle" fill="#000" transform="rotate(-90 30.40 371.41)" letter-spacing="0.29">levels</text>
<rect x="53.60" y="407.17" width="19.15" height="18.03" fill="#fff" stroke="#333" stroke-width="0.7"/>
<line x1="82.33" y1="354.34" x2="82.33" y2="361.01" stroke="#222" stroke-width="0.8"/>
<line x1="78.08" y1="354.34" x2="86.58" y2="354.34" stroke="#222" stroke-width="0.8"/>
<rect x="72.75" y="361.01" width="19.15" height="64.19" fill="#7a7a7a" stroke="#222" stroke-width="0.8"/>
<text x="82.33" y="354.04" font-size="9" text-anchor="middle" fill="#000">**</text>
<line x1="101.48" y1="343.16" x2="101.48" y2="349.83" stroke="#222" stroke-width="0.8"/>
<line x1="97.23" y1="343.16" x2="105.73" y2="343.16" stroke="#222" stroke-width="0.8"/>
<rect x="91.90" y="349.83" width="19.15" height="75.37" fill="#000" stroke="#000" stroke-width="0.8"/>
<text x="101.48" y="342.64" font-size="9" text-anchor="middle" fill="#000">**</text>
<line x1="82.33" y1="425.20" x2="82.33" y2="427.40" stroke="#000" stroke-width="0.9"/>
<text x="82.33" y="435.00" font-size="6.8" text-anchor="middle" fill="#000">P57</text>
<rect x="129.40" y="407.17" width="19.15" height="18.03" fill="#fff" stroke="#333" stroke-width="0.7"/>
<line x1="158.12" y1="359.75" x2="158.12" y2="366.06" stroke="#222" stroke-width="0.8"/>
<line x1="153.88" y1="359.75" x2="162.38" y2="359.75" stroke="#222" stroke-width="0.8"/>
<rect x="148.55" y="366.06" width="19.15" height="59.14" fill="#7a7a7a" stroke="#222" stroke-width="0.8"/>
<text x="158.12" y="360.04" font-size="9" text-anchor="middle" fill="#000">**</text>
<line x1="177.27" y1="351.28" x2="177.27" y2="356.87" stroke="#222" stroke-width="0.8"/>
<line x1="173.02" y1="351.28" x2="181.52" y2="351.28" stroke="#222" stroke-width="0.8"/>
<rect x="167.70" y="356.87" width="19.15" height="68.33" fill="#000" stroke="#000" stroke-width="0.8"/>
<text x="177.27" y="350.94" font-size="9" text-anchor="middle" fill="#000">**</text>
<line x1="158.12" y1="425.20" x2="158.12" y2="427.40" stroke="#000" stroke-width="0.9"/>
<text x="158.12" y="435.00" font-size="6.8" text-anchor="middle" fill="#000">KLF2</text>
<line x1="44.50" y1="425.20" x2="196.80" y2="425.20" stroke="#000" stroke-width="1.2"/>
<line x1="45.00" y1="316.52" x2="45.00" y2="425.70" stroke="#000" stroke-width="1.3"/>
<line x1="42.20" y1="425.20" x2="45.00" y2="425.20" stroke="#000" stroke-width="1.3"/>
<text x="41.40" y="428.08" font-size="8.0" text-anchor="end" fill="#000">0</text>
<line x1="42.20" y1="407.17" x2="45.00" y2="407.17" stroke="#000" stroke-width="1.3"/>
<text x="41.40" y="410.05" font-size="8.0" text-anchor="end" fill="#000">1</text>
<line x1="42.20" y1="389.14" x2="45.00" y2="389.14" stroke="#000" stroke-width="1.3"/>
<text x="41.40" y="392.02" font-size="8.0" text-anchor="end" fill="#000">2</text>
<line x1="42.20" y1="371.11" x2="45.00" y2="371.11" stroke="#000" stroke-width="1.3"/>
<text x="41.40" y="373.99" font-size="8.0" text-anchor="end" fill="#000">3</text>
<line x1="42.20" y1="353.08" x2="45.00" y2="353.08" stroke="#000" stroke-width="1.3"/>
<text x="41.40" y="355.96" font-size="8.0" text-anchor="end" fill="#000">4</text>
<line x1="42.20" y1="335.05" x2="45.00" y2="335.05" stroke="#000" stroke-width="1.3"/>
<text x="41.40" y="337.93" font-size="8.0" text-anchor="end" fill="#000">5</text>
<line x1="42.20" y1="317.02" x2="45.00" y2="317.02" stroke="#000" stroke-width="1.3"/>
<text x="41.40" y="319.90" font-size="8.0" text-anchor="end" fill="#000">6</text>
<text x="118.80" y="319.90" font-size="6.9" text-anchor="middle" fill="#000">SW480</text>
<rect x="141.40" y="311.35" width="11.10" height="3.70" fill="#fff" stroke="#111" stroke-width="0.7" rx="0.5"/>
<text x="157.90" y="315.80" font-size="7.2" text-anchor="start" fill="#000">si-NC</text>
<rect x="141.40" y="323.55" width="11.10" height="3.70" fill="#7a7a7a" stroke="#111" stroke-width="0.7" rx="0.5"/>
<text x="157.90" y="328.00" font-size="7.2" text-anchor="start" fill="#000">si-EZH2 1#</text>
<rect x="141.40" y="335.55" width="11.10" height="3.70" fill="#000" stroke="#111" stroke-width="0.7" rx="0.5"/>
<text x="157.90" y="340.00" font-size="7.2" text-anchor="start" fill="#000">si-EZH2 2#</text>
<text x="215.30" y="371.41" font-size="7.4" text-anchor="middle" fill="#000" transform="rotate(-90 215.30 371.41)" letter-spacing="0.29">Relative RNA expression</text>
<text x="223.60" y="371.41" font-size="7.2" text-anchor="middle" fill="#000" transform="rotate(-90 223.60 371.41)" letter-spacing="0.29">levels</text>
<rect x="247.60" y="407.17" width="19.00" height="18.03" fill="#fff" stroke="#333" stroke-width="0.7"/>
<line x1="276.10" y1="348.03" x2="276.10" y2="355.24" stroke="#222" stroke-width="0.8"/>
<line x1="271.85" y1="348.03" x2="280.35" y2="348.03" stroke="#222" stroke-width="0.8"/>
<rect x="266.60" y="355.24" width="19.00" height="69.96" fill="#7a7a7a" stroke="#222" stroke-width="0.8"/>
<text x="276.10" y="347.04" font-size="9" text-anchor="middle" fill="#000">**</text>
<line x1="295.10" y1="346.95" x2="295.10" y2="353.62" stroke="#222" stroke-width="0.8"/>
<line x1="290.85" y1="346.95" x2="299.35" y2="346.95" stroke="#222" stroke-width="0.8"/>
<rect x="285.60" y="353.62" width="19.00" height="71.58" fill="#000" stroke="#000" stroke-width="0.8"/>
<text x="295.10" y="346.44" font-size="9" text-anchor="middle" fill="#000">**</text>
<line x1="276.10" y1="425.20" x2="276.10" y2="427.40" stroke="#000" stroke-width="0.9"/>
<text x="276.10" y="435.00" font-size="6.8" text-anchor="middle" fill="#000">P57</text>
<rect x="323.50" y="407.17" width="19.00" height="18.03" fill="#fff" stroke="#333" stroke-width="0.7"/>
<line x1="352.00" y1="365.52" x2="352.00" y2="371.11" stroke="#222" stroke-width="0.8"/>
<line x1="347.75" y1="365.52" x2="356.25" y2="365.52" stroke="#222" stroke-width="0.8"/>
<rect x="342.50" y="371.11" width="19.00" height="54.09" fill="#7a7a7a" stroke="#222" stroke-width="0.8"/>
<text x="352.00" y="365.04" font-size="9" text-anchor="middle" fill="#000">**</text>
<line x1="371.00" y1="362.28" x2="371.00" y2="367.86" stroke="#222" stroke-width="0.8"/>
<line x1="366.75" y1="362.28" x2="375.25" y2="362.28" stroke="#222" stroke-width="0.8"/>
<rect x="361.50" y="367.86" width="19.00" height="57.34" fill="#000" stroke="#000" stroke-width="0.8"/>
<text x="371.00" y="361.84" font-size="9" text-anchor="middle" fill="#000">**</text>
<line x1="352.00" y1="425.20" x2="352.00" y2="427.40" stroke="#000" stroke-width="0.9"/>
<text x="352.00" y="435.00" font-size="6.8" text-anchor="middle" fill="#000">KLF2</text>
<line x1="237.90" y1="425.20" x2="390.80" y2="425.20" stroke="#000" stroke-width="1.2"/>
<line x1="238.40" y1="316.52" x2="238.40" y2="425.70" stroke="#000" stroke-width="1.3"/>
<line x1="235.60" y1="425.20" x2="238.40" y2="425.20" stroke="#000" stroke-width="1.3"/>
<text x="234.80" y="428.08" font-size="8.0" text-anchor="end" fill="#000">0</text>
<line x1="235.60" y1="407.17" x2="238.40" y2="407.17" stroke="#000" stroke-width="1.3"/>
<text x="234.80" y="410.05" font-size="8.0" text-anchor="end" fill="#000">1</text>
<line x1="235.60" y1="389.14" x2="238.40" y2="389.14" stroke="#000" stroke-width="1.3"/>
<text x="234.80" y="392.02" font-size="8.0" text-anchor="end" fill="#000">2</text>
<line x1="235.60" y1="371.11" x2="238.40" y2="371.11" stroke="#000" stroke-width="1.3"/>
<text x="234.80" y="373.99" font-size="8.0" text-anchor="end" fill="#000">3</text>
<line x1="235.60" y1="353.08" x2="238.40" y2="353.08" stroke="#000" stroke-width="1.3"/>
<text x="234.80" y="355.96" font-size="8.0" text-anchor="end" fill="#000">4</text>
<line x1="235.60" y1="335.05" x2="238.40" y2="335.05" stroke="#000" stroke-width="1.3"/>
<text x="234.80" y="337.93" font-size="8.0" text-anchor="end" fill="#000">5</text>
<line x1="235.60" y1="317.02" x2="238.40" y2="317.02" stroke="#000" stroke-width="1.3"/>
<text x="234.80" y="319.90" font-size="8.0" text-anchor="end" fill="#000">6</text>
<text x="310.80" y="319.90" font-size="6.9" text-anchor="middle" fill="#000">DLD-1</text>
<rect x="336.00" y="311.35" width="11.10" height="3.70" fill="#fff" stroke="#111" stroke-width="0.7" rx="0.5"/>
<text x="352.50" y="315.80" font-size="7.2" text-anchor="start" fill="#000">si-NC</text>
<rect x="336.00" y="323.55" width="11.10" height="3.70" fill="#7a7a7a" stroke="#111" stroke-width="0.7" rx="0.5"/>
<text x="352.50" y="328.00" font-size="7.2" text-anchor="start" fill="#000">si-EZH2 1#</text>
<rect x="336.00" y="335.55" width="11.10" height="3.70" fill="#000" stroke="#111" stroke-width="0.7" rx="0.5"/>
<text x="352.50" y="340.00" font-size="7.2" text-anchor="start" fill="#000">si-EZH2 2#</text>
<text x="23.00" y="532.75" font-size="7.0" text-anchor="middle" fill="#000" transform="rotate(-90 23.00 532.75)" letter-spacing="0.25">Relative to Input (%)</text>
<rect x="47.40" y="581.65" width="8.15" height="2.05" fill="#999" stroke="#777" stroke-width="0.8"/>
<rect x="55.55" y="581.86" width="8.15" height="1.85" fill="#000" stroke="#000" stroke-width="0.8"/>
<text x="59.00" y="590.00" font-size="7.2" text-anchor="end" fill="#000" transform="rotate(-45 59.00 590.00)" style="stroke-width:0.4px">Anti-IgG</text>
<line x1="75.67" y1="491.86" x2="75.67" y2="497.40" stroke="#222" stroke-width="0.8"/>
<line x1="73.47" y1="491.86" x2="77.88" y2="491.86" stroke="#222" stroke-width="0.8"/>
<rect x="71.60" y="497.40" width="8.15" height="86.31" fill="#fff" stroke="#000" stroke-width="0.8"/>
<line x1="83.83" y1="528.15" x2="83.83" y2="532.66" stroke="#222" stroke-width="0.8"/>
<line x1="81.62" y1="528.15" x2="86.03" y2="528.15" stroke="#222" stroke-width="0.8"/>
<rect x="79.75" y="532.66" width="8.15" height="51.04" fill="#000" stroke="#000" stroke-width="0.8"/>
<text x="84.12" y="528.36" font-size="7.6" text-anchor="middle" fill="#000">*</text>
<text x="83.00" y="590.00" font-size="7.2" text-anchor="end" fill="#000" transform="rotate(-45 83.00 590.00)" style="stroke-width:0.4px">Anti-EZH2</text>
<line x1="100.08" y1="511.34" x2="100.08" y2="513.59" stroke="#222" stroke-width="0.8"/>
<line x1="97.88" y1="511.34" x2="102.28" y2="511.34" stroke="#222" stroke-width="0.8"/>
<rect x="96.00" y="513.59" width="8.15" height="70.11" fill="#fff" stroke="#000" stroke-width="0.8"/>
<line x1="108.23" y1="539.42" x2="108.23" y2="543.11" stroke="#222" stroke-width="0.8"/>
<line x1="106.03" y1="539.42" x2="110.43" y2="539.42" stroke="#222" stroke-width="0.8"/>
<rect x="104.15" y="543.11" width="8.15" height="40.59" fill="#000" stroke="#000" stroke-width="0.8"/>
<text x="108.53" y="539.66" font-size="7.6" text-anchor="middle" fill="#000">*</text>
<text x="107.50" y="590.00" font-size="7.2" text-anchor="end" fill="#000" transform="rotate(-45 107.50 590.00)" style="stroke-width:0.4px">Anti-H3K27me3</text>
<rect x="120.70" y="581.65" width="8.15" height="2.05" fill="#999" stroke="#777" stroke-width="0.8"/>
<rect x="128.85" y="581.86" width="8.15" height="1.85" fill="#000" stroke="#000" stroke-width="0.8"/>
<text x="132.00" y="590.00" font-size="7.2" text-anchor="end" fill="#000" transform="rotate(-45 132.00 590.00)" style="stroke-width:0.4px">Anti-IgG</text>
<line x1="149.67" y1="505.80" x2="149.67" y2="509.90" stroke="#222" stroke-width="0.8"/>
<line x1="147.47" y1="505.80" x2="151.87" y2="505.80" stroke="#222" stroke-width="0.8"/>
<rect x="145.60" y="509.90" width="8.15" height="73.80" fill="#fff" stroke="#000" stroke-width="0.8"/>
<line x1="157.82" y1="535.53" x2="157.82" y2="538.60" stroke="#222" stroke-width="0.8"/>
<line x1="155.62" y1="535.53" x2="160.02" y2="535.53" stroke="#222" stroke-width="0.8"/>
<rect x="153.75" y="538.60" width="8.15" height="45.10" fill="#000" stroke="#000" stroke-width="0.8"/>
<text x="158.12" y="535.36" font-size="7.6" text-anchor="middle" fill="#000">*</text>
<text x="157.00" y="590.00" font-size="7.2" text-anchor="end" fill="#000" transform="rotate(-45 157.00 590.00)" style="stroke-width:0.4px">Anti-EZH2</text>
<line x1="173.88" y1="520.56" x2="173.88" y2="524.46" stroke="#222" stroke-width="0.8"/>
<line x1="171.68" y1="520.56" x2="176.07" y2="520.56" stroke="#222" stroke-width="0.8"/>
<rect x="169.80" y="524.46" width="8.15" height="59.25" fill="#fff" stroke="#000" stroke-width="0.8"/>
<line x1="182.03" y1="556.85" x2="182.03" y2="559.31" stroke="#222" stroke-width="0.8"/>
<line x1="179.83" y1="556.85" x2="184.22" y2="556.85" stroke="#222" stroke-width="0.8"/>
<rect x="177.95" y="559.31" width="8.15" height="24.39" fill="#000" stroke="#000" stroke-width="0.8"/>
<text x="182.33" y="556.36" font-size="7.6" text-anchor="middle" fill="#000">*</text>
<text x="181.50" y="590.00" font-size="7.2" text-anchor="end" fill="#000" transform="rotate(-45 181.50 590.00)" style="stroke-width:0.4px">Anti-H3K27me3</text>
<line x1="42.40" y1="583.70" x2="190.50" y2="583.70" stroke="#000" stroke-width="1.2"/>
<line x1="42.90" y1="480.70" x2="42.90" y2="584.20" stroke="#000" stroke-width="1.3"/>
<line x1="40.20" y1="583.70" x2="42.90" y2="583.70" stroke="#000" stroke-width="1.3"/>
<text x="39.10" y="586.44" font-size="7.6" text-anchor="end" fill="#000">0</text>
<line x1="40.20" y1="563.20" x2="42.90" y2="563.20" stroke="#000" stroke-width="1.3"/>
<text x="39.10" y="565.94" font-size="7.6" text-anchor="end" fill="#000">10</text>
<line x1="40.20" y1="542.70" x2="42.90" y2="542.70" stroke="#000" stroke-width="1.3"/>
<text x="39.10" y="545.44" font-size="7.6" text-anchor="end" fill="#000">20</text>
<line x1="40.20" y1="522.20" x2="42.90" y2="522.20" stroke="#000" stroke-width="1.3"/>
<text x="39.10" y="524.94" font-size="7.6" text-anchor="end" fill="#000">30</text>
<line x1="40.20" y1="501.70" x2="42.90" y2="501.70" stroke="#000" stroke-width="1.3"/>
<text x="39.10" y="504.44" font-size="7.6" text-anchor="end" fill="#000">40</text>
<line x1="40.20" y1="481.20" x2="42.90" y2="481.20" stroke="#000" stroke-width="1.3"/>
<text x="39.10" y="483.94" font-size="7.6" text-anchor="end" fill="#000">50</text>
<text x="82.30" y="485.00" font-size="6.8" text-anchor="middle" fill="#000">SW480</text>
<line x1="54.40" y1="489.00" x2="110.20" y2="489.00" stroke="#000" stroke-width="0.9"/>
<text x="156.90" y="497.40" font-size="6.8" text-anchor="middle" fill="#000">DLD-1</text>
<line x1="129.00" y1="502.40" x2="183.80" y2="502.40" stroke="#000" stroke-width="0.9"/>
<text x="113.20" y="463.50" font-size="6.8" text-anchor="start" fill="#000">P57</text>
<rect x="132.40" y="469.15" width="10.80" height="3.70" fill="#fff" stroke="#111" stroke-width="0.7" rx="0.5"/>
<text x="149.40" y="473.20" font-size="7.0" text-anchor="start" fill="#000">si-NC</text>
<rect x="132.40" y="481.15" width="10.80" height="3.70" fill="#000" stroke="#111" stroke-width="0.7" rx="0.5"/>
<text x="149.40" y="485.20" font-size="7.0" text-anchor="start" fill="#000">si-SH3PXD2A-AS1 3#</text>
<text x="219.30" y="533.67" font-size="6.8" text-anchor="middle" fill="#000" transform="rotate(-90 219.30 533.67)" letter-spacing="0.25">Relative to Input (%)</text>
<rect x="241.90" y="581.50" width="8.15" height="2.00" fill="#999" stroke="#777" stroke-width="0.8"/>
<rect x="250.05" y="581.70" width="8.15" height="1.80" fill="#000" stroke="#000" stroke-width="0.8"/>
<text x="252.00" y="590.30" font-size="7.2" text-anchor="end" fill="#000" transform="rotate(-45 252.00 590.30)" style="stroke-width:0.4px">Anti-IgG</text>
<line x1="269.88" y1="502.50" x2="269.88" y2="507.71" stroke="#222" stroke-width="0.8"/>
<line x1="267.68" y1="502.50" x2="272.07" y2="502.50" stroke="#222" stroke-width="0.8"/>
<rect x="265.80" y="507.71" width="8.15" height="75.79" fill="#fff" stroke="#000" stroke-width="0.8"/>
<line x1="278.02" y1="525.56" x2="278.02" y2="529.37" stroke="#222" stroke-width="0.8"/>
<line x1="275.82" y1="525.56" x2="280.22" y2="525.56" stroke="#222" stroke-width="0.8"/>
<rect x="273.95" y="529.37" width="8.15" height="54.13" fill="#000" stroke="#000" stroke-width="0.8"/>
<text x="278.32" y="525.36" font-size="7.6" text-anchor="middle" fill="#000">*</text>
<text x="277.50" y="590.30" font-size="7.2" text-anchor="end" fill="#000" transform="rotate(-45 277.50 590.30)" style="stroke-width:0.4px">Anti-EZH2</text>
<line x1="293.57" y1="519.34" x2="293.57" y2="521.35" stroke="#222" stroke-width="0.8"/>
<line x1="291.38" y1="519.34" x2="295.77" y2="519.34" stroke="#222" stroke-width="0.8"/>
<rect x="289.50" y="521.35" width="8.15" height="62.15" fill="#fff" stroke="#000" stroke-width="0.8"/>
<line x1="301.72" y1="541.80" x2="301.72" y2="543.60" stroke="#222" stroke-width="0.8"/>
<line x1="299.52" y1="541.80" x2="303.92" y2="541.80" stroke="#222" stroke-width="0.8"/>
<rect x="297.65" y="543.60" width="8.15" height="39.90" fill="#000" stroke="#000" stroke-width="0.8"/>
<text x="302.02" y="542.16" font-size="7.6" text-anchor="middle" fill="#000">*</text>
<text x="301.00" y="590.30" font-size="7.2" text-anchor="end" fill="#000" transform="rotate(-45 301.00 590.30)" style="stroke-width:0.4px">Anti-H3K27me3</text>
<rect x="313.50" y="581.50" width="8.15" height="2.00" fill="#999" stroke="#777" stroke-width="0.8"/>
<rect x="321.65" y="581.70" width="8.15" height="1.80" fill="#000" stroke="#000" stroke-width="0.8"/>
<text x="323.50" y="590.30" font-size="7.2" text-anchor="end" fill="#000" transform="rotate(-45 323.50 590.30)" style="stroke-width:0.4px">Anti-IgG</text>
<line x1="341.27" y1="507.71" x2="341.27" y2="511.32" stroke="#222" stroke-width="0.8"/>
<line x1="339.07" y1="507.71" x2="343.47" y2="507.71" stroke="#222" stroke-width="0.8"/>
<rect x="337.20" y="511.32" width="8.15" height="72.18" fill="#fff" stroke="#000" stroke-width="0.8"/>
<line x1="349.42" y1="540.59" x2="349.42" y2="543.80" stroke="#222" stroke-width="0.8"/>
<line x1="347.22" y1="540.59" x2="351.62" y2="540.59" stroke="#222" stroke-width="0.8"/>
<rect x="345.35" y="543.80" width="8.15" height="39.70" fill="#000" stroke="#000" stroke-width="0.8"/>
<text x="349.72" y="539.66" font-size="7.6" text-anchor="middle" fill="#000">*</text>
<text x="348.50" y="590.30" font-size="7.2" text-anchor="end" fill="#000" transform="rotate(-45 348.50 590.30)" style="stroke-width:0.4px">Anti-EZH2</text>
<line x1="365.47" y1="521.95" x2="365.47" y2="525.56" stroke="#222" stroke-width="0.8"/>
<line x1="363.27" y1="521.95" x2="367.67" y2="521.95" stroke="#222" stroke-width="0.8"/>
<rect x="361.40" y="525.56" width="8.15" height="57.94" fill="#fff" stroke="#000" stroke-width="0.8"/>
<line x1="373.62" y1="556.83" x2="373.62" y2="559.24" stroke="#222" stroke-width="0.8"/>
<line x1="371.42" y1="556.83" x2="375.82" y2="556.83" stroke="#222" stroke-width="0.8"/>
<rect x="369.55" y="559.24" width="8.15" height="24.26" fill="#000" stroke="#000" stroke-width="0.8"/>
<text x="373.92" y="556.36" font-size="7.6" text-anchor="middle" fill="#000">*</text>
<text x="373.50" y="590.30" font-size="7.2" text-anchor="end" fill="#000" transform="rotate(-45 373.50 590.30)" style="stroke-width:0.4px">Anti-H3K27me3</text>
<line x1="237.70" y1="583.50" x2="382.80" y2="583.50" stroke="#000" stroke-width="1.2"/>
<line x1="238.20" y1="482.75" x2="238.20" y2="584.00" stroke="#000" stroke-width="1.3"/>
<line x1="235.50" y1="583.50" x2="238.20" y2="583.50" stroke="#000" stroke-width="1.3"/>
<text x="234.40" y="586.24" font-size="7.6" text-anchor="end" fill="#000">0</text>
<line x1="235.50" y1="563.45" x2="238.20" y2="563.45" stroke="#000" stroke-width="1.3"/>
<text x="234.40" y="566.19" font-size="7.6" text-anchor="end" fill="#000">10</text>
<line x1="235.50" y1="543.40" x2="238.20" y2="543.40" stroke="#000" stroke-width="1.3"/>
<text x="234.40" y="546.14" font-size="7.6" text-anchor="end" fill="#000">20</text>
<line x1="235.50" y1="523.35" x2="238.20" y2="523.35" stroke="#000" stroke-width="1.3"/>
<text x="234.40" y="526.09" font-size="7.6" text-anchor="end" fill="#000">30</text>
<line x1="235.50" y1="503.30" x2="238.20" y2="503.30" stroke="#000" stroke-width="1.3"/>
<text x="234.40" y="506.04" font-size="7.6" text-anchor="end" fill="#000">40</text>
<line x1="235.50" y1="483.25" x2="238.20" y2="483.25" stroke="#000" stroke-width="1.3"/>
<text x="234.40" y="485.99" font-size="7.6" text-anchor="end" fill="#000">50</text>
<text x="276.80" y="487.20" font-size="6.8" text-anchor="middle" fill="#000">SW480</text>
<line x1="249.60" y1="491.60" x2="302.50" y2="491.60" stroke="#000" stroke-width="0.9"/>
<text x="348.40" y="500.20" font-size="6.8" text-anchor="middle" fill="#000">DLD-1</text>
<line x1="322.20" y1="504.20" x2="373.80" y2="504.20" stroke="#000" stroke-width="0.9"/>
<text x="307.00" y="467.40" font-size="6.8" text-anchor="start" fill="#000">KLF2</text>
<rect x="326.00" y="471.75" width="10.80" height="3.70" fill="#fff" stroke="#111" stroke-width="0.7" rx="0.5"/>
<text x="341.70" y="475.80" font-size="6.5" text-anchor="start" fill="#000">si-NC</text>
<rect x="326.00" y="483.45" width="10.80" height="3.70" fill="#000" stroke="#111" stroke-width="0.7" rx="0.5"/>
<text x="341.70" y="487.50" font-size="6.5" text-anchor="start" fill="#000">si-SH3PXD2A-AS1 3#</text>
</g>
</svg>
</body></html>
